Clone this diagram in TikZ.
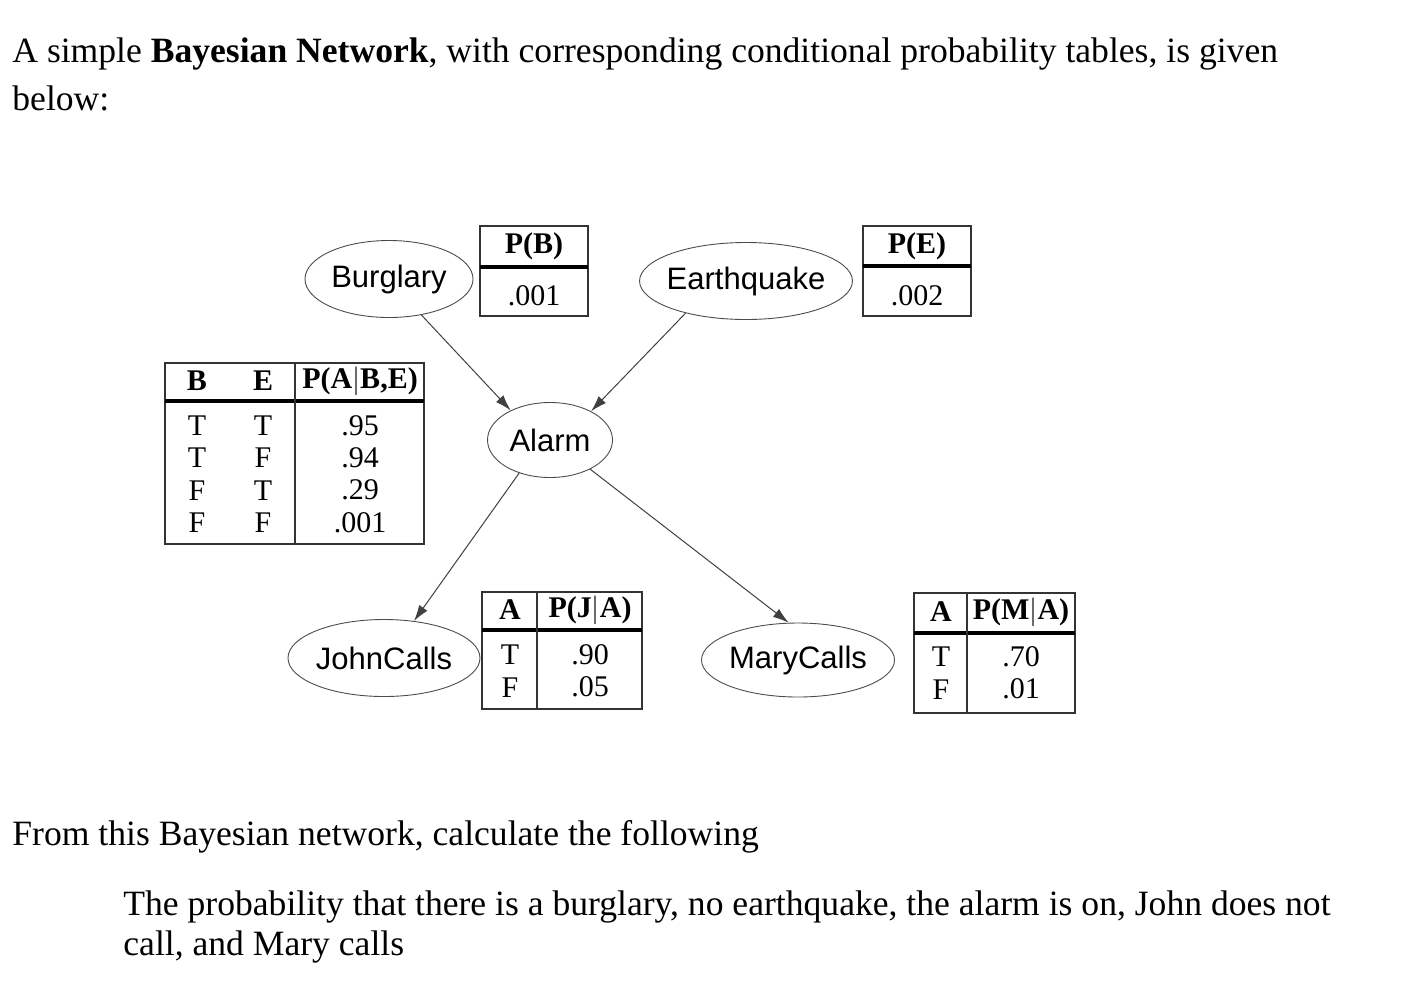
\documentclass[tikz,border=0pt]{standalone}
\usepackage{fontspec}
\setmainfont{Liberation Serif}
\newfontfamily\netfont{Liberation Sans}
\usetikzlibrary{shapes.geometric}
\usetikzlibrary{arrows.meta}

\tikzset{
  var/.style={ellipse, draw=black!70, line width=.45pt, inner xsep=-2pt, inner ysep=0pt, font=\netfont\fontsize{15.5}{16}\selectfont},
  edge/.style={draw=black!75, line width=.5pt, -{Latex[length=8pt,width=5pt]}},
  cpt/.style={draw=black!80, line width=1.1pt},
  rule/.style={draw=black, line width=1.8pt},
  cell/.style={inner sep=0pt, align=center, font=\fontsize{15}{16.2}\selectfont},
  head/.style={inner sep=0pt, align=center, font=\bfseries\fontsize{15}{16.2}\selectfont},
  prose/.style={anchor=base west, inner sep=0pt, font=\fontsize{17.8}{20}\selectfont}
}

\begin{document}
\begin{tikzpicture}[x=0.5pt,y=-0.5pt]
\path[use as bounding box] (0,0) rectangle (1422,980);
\node[prose] (intro1) at (12,62) {A simple \textbf{Bayesian Network}, with corresponding conditional probability tables, is given};
\node[prose] (intro2) at (12,110) {below:};

\node[var, minimum width=84pt, minimum height=38.5pt] (burglary) at (389,279) {Burglary};
\node[var, minimum width=106pt, minimum height=38.5pt] (earthquake) at (746,281) {Earthquake};
\node[var, minimum width=62.5pt, minimum height=37.5pt] (alarm) at (550,440) {Alarm};
\node[var, minimum width=96pt, minimum height=38.5pt] (johncalls) at (384,658) {JohnCalls};
\node[var, minimum width=96.5pt, minimum height=37pt] (marycalls) at (798,660) {MaryCalls};

\draw[edge] (burglary.312) -- (alarm.143);
\draw[edge] (earthquake.208) -- (alarm.35);
\draw[edge] (alarm.227) -- (johncalls.51);
\draw[edge] (alarm.324) -- (marycalls.104);

\draw[cpt] (480,226) rectangle (588,316);
\draw[rule] (480,267) -- (588,267);
\node[head] (pb-head) at (534,246) {P(B)};
\node[cell] (pb-val) at (534,296) {.001};

\draw[cpt] (863,226) rectangle (971,316);
\draw[rule] (863,266) -- (971,266);
\node[head] (pe-head) at (917,246) {P(E)};
\node[cell] (pe-val) at (917,296) {.002};

\draw[cpt] (165,363) rectangle (424,544);
\draw[rule] (165,401) -- (424,401);
\draw[cpt] (295,363) -- (295,544);
\node[head] (pa-b) at (197,381) {B};
\node[head] (pa-e) at (263,381) {E};
\node[head] (pa-head) at (360,381) {P(A$|$B,E)};
\node[cell] (pa-bcol) at (197,474) {T\\T\\F\\F};
\node[cell] (pa-ecol) at (263,474) {T\\F\\T\\F};
\node[cell] (pa-vals) at (360,474) {.95\\.94\\.29\\.001};

\draw[cpt] (482,592) rectangle (642,709);
\draw[rule] (482,630) -- (642,630);
\draw[cpt] (537,592) -- (537,709);
\node[head] (pj-a) at (510,610) {A};
\node[head] (pj-head) at (590,610) {P(J$|$A)};
\node[cell] (pj-acol) at (510,671) {T\\F};
\node[cell] (pj-vals) at (590,671) {.90\\.05};

\draw[cpt] (914,593) rectangle (1075,713);
\draw[rule] (914,633) -- (1075,633);
\draw[cpt] (967,593) -- (967,713);
\node[head] (pm-a) at (941,612) {A};
\node[head] (pm-head) at (1021,612) {P(M$|$A)};
\node[cell] (pm-acol) at (941,673) {T\\F};
\node[cell] (pm-vals) at (1021,673) {.70\\.01};

\node[prose] (task) at (12,845) {From this Bayesian network, calculate the following};
\node[prose] (question1) at (123,915) {The probability that there is a burglary, no earthquake, the alarm is on, John does not};
\node[prose] (question2) at (123,955) {call, and Mary calls};
\end{tikzpicture}
\end{document}
